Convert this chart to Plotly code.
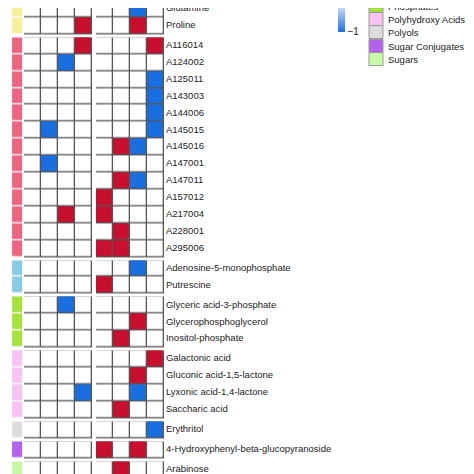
import numpy as np
import plotly.graph_objects as go

# metabolite rows, grouped by class
groups = ["Amino Acids", "Unknowns", "Amines", "Phosphates",
          "Polyhydroxy Acids", "Polyols", "Sugar Conjugates", "Sugars"]
group_colors = ["#f4f19a", "#ef6580", "#86cbe8", "#a6e33a",
                "#f8c2f2", "#dcdcdc", "#b362ef", "#c8f7a6"]

metabolites = ["Glutamine", "Proline",
               "A116014", "A124002", "A125011", "A143003", "A144006", "A145015",
               "A145016", "A147001", "A147011", "A157012", "A217004", "A228001", "A295006",
               "Adenosine-5-monophosphate", "Putrescine",
               "Glyceric acid-3-phosphate", "Glycerophosphoglycerol", "Inositol-phosphate",
               "Galactonic acid", "Gluconic acid-1,5-lactone", "Lyxonic acid-1,4-lactone",
               "Saccharic acid",
               "Erythritol",
               "4-Hydroxyphenyl-beta-glucopyranoside",
               "Arabinose"]
metabolite_group = [0, 0] + [1] * 13 + [2, 2] + [3, 3, 3] + [4, 4, 4, 4] + [5] + [6] + [7]

# fold change sign per comparison (4 left + 4 right columns)
values = [
    [0, 0, 0, 0, 0, 0, -1, 0],
    [0, 0, 0, 1, 0, 0, 1, 0],
    [0, 0, 0, 1, 0, 0, 0, 1],
    [0, 0, -1, 0, 0, 0, 0, 0],
    [0, 0, 0, 0, 0, 0, 0, -1],
    [0, 0, 0, 0, 0, 0, 0, -1],
    [0, 0, 0, 0, 0, 0, 0, -1],
    [0, -1, 0, 0, 0, 0, 0, -1],
    [0, 0, 0, 0, 0, 1, -1, 0],
    [0, -1, 0, 0, 0, 0, 0, 0],
    [0, 0, 0, 0, 0, 1, -1, 0],
    [0, 0, 0, 0, 1, 0, 0, 0],
    [0, 0, 1, 0, 1, 0, 0, 0],
    [0, 0, 0, 0, 0, 1, 0, 0],
    [0, 0, 0, 0, 1, 1, 0, 0],
    [0, 0, 0, 0, 0, 0, -1, 0],
    [0, 0, 0, 0, 1, 0, 0, 0],
    [0, 0, -1, 0, 0, 0, 0, 0],
    [0, 0, 0, 0, 0, 0, 1, 0],
    [0, 0, 0, 0, 0, 1, 0, 0],
    [0, 0, 0, 0, 0, 0, 0, 1],
    [0, 0, 0, 0, 0, 0, 1, 0],
    [0, 0, 0, -1, 0, 0, -1, 0],
    [0, 0, 0, 0, 0, 1, 0, 0],
    [0, 0, 0, 0, 0, 0, 0, -1],
    [0, 0, 0, 0, 1, 0, 1, 0],
    [0, 0, 0, 0, 0, 1, 0, 0],
]

GAP_Y = 0.18
GAP_X = 0.24

# y edges with thin NaN rows between groups
y_edges = [0.0]
z_rows, strip_rows, under_rows, label_y = [], [], [], []
prev = metabolite_group[0]
for i, vals in enumerate(values):
    g = metabolite_group[i]
    if g != prev:
        y_edges.append(y_edges[-1] + GAP_Y)
        z_rows.append([np.nan] * 9)
        strip_rows.append([np.nan])
        under_rows.append([np.nan] * 9)
        prev = g
    label_y.append(y_edges[-1] + 0.5)
    y_edges.append(y_edges[-1] + 1)
    z_rows.append(vals[:4] + [np.nan] + vals[4:])
    strip_rows.append([g])
    under_rows.append([1] * 4 + [np.nan] + [1] * 4)

x_edges = [0, 1, 2, 3, 4, 4 + GAP_X, 5 + GAP_X, 6 + GAP_X, 7 + GAP_X, 8 + GAP_X]

fig = go.Figure()
# grey cell borders underneath
fig.add_trace(go.Heatmap(x=x_edges, y=y_edges, z=under_rows,
                         colorscale=[[0, "#555555"], [1, "#555555"]],
                         showscale=False, hoverinfo="skip"))
fig.add_trace(go.Heatmap(x=x_edges, y=y_edges, z=z_rows, zmin=-1, zmax=1,
                         xgap=1.3, ygap=1.3,
                         colorscale=[[0, "#1a6fe0"], [0.5, "#ffffff"], [1, "#c8102e"]],
                         colorbar=dict(x=0.675, xanchor="left", y=0.95, yanchor="bottom",
                                       len=0.14, lenmode="fraction", thickness=7,
                                       outlinewidth=0, tickvals=[-1, 0, 1], ypad=0,
                                       tickfont=dict(size=10, family="Liberation Sans", color="#222"),
                                       ticks="")))
# group colour strip
n = len(groups)
strip_scale = []
for k, c in enumerate(group_colors):
    strip_scale += [[k / n, c], [(k + 1) / n, c]]
fig.add_trace(go.Heatmap(x=[-0.7, -0.12], y=y_edges, z=strip_rows, zmin=-0.5, zmax=n - 0.5,
                         colorscale=strip_scale, showscale=False, ygap=1.3, hoverinfo="skip"))
# row labels
fig.add_trace(go.Scatter(x=[8.35] * len(metabolites), y=label_y, text=metabolites,
                         mode="text", textposition="middle right", showlegend=False,
                         cliponaxis=False,
                         textfont=dict(size=9.5, family="Liberation Sans", color="#222")))

# manual group legend (top entries run off the top of the page)
legend_px = [-41, -28, -15, -2, 11, 24, 38, 51]
for name, c, py_ in zip(groups, group_colors, legend_px):
    yc = 1 - py_ / 474
    fig.add_shape(type="rect", xref="paper", yref="paper",
                  x0=361 / 474, x1=375 / 474, y0=yc - 6.5 / 474, y1=yc + 6.5 / 474,
                  fillcolor=c, line=dict(color="#999", width=1))
    fig.add_annotation(x=378 / 474, y=yc, xref="paper", yref="paper", text=name,
                       showarrow=False, xanchor="left", yanchor="middle",
                       font=dict(size=9.5, family="Liberation Sans", color="#222"))

fig.update_layout(
    width=474, height=474, margin=dict(l=0, r=0, t=0, b=0, autoexpand=False),
    plot_bgcolor="white", paper_bgcolor="white", showlegend=False,
    xaxis=dict(range=[-0.94, 26.94], visible=False, fixedrange=True),
    yaxis=dict(range=[28.5, 0.45], visible=False, fixedrange=True),
)

fig.write_html("out.html")
